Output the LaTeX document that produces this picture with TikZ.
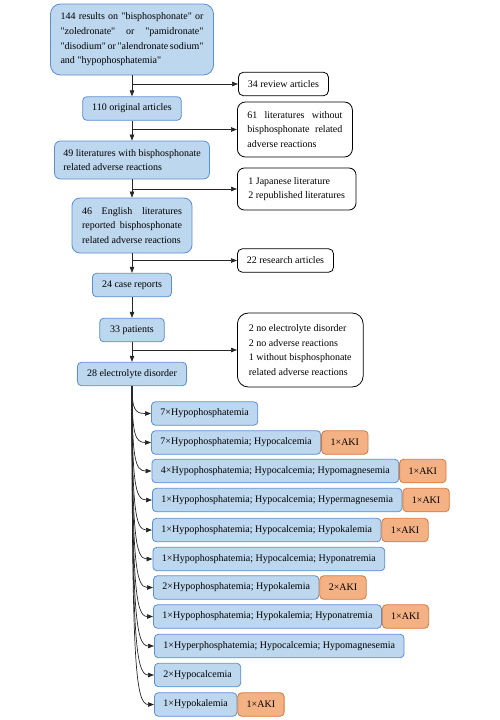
\documentclass[tikz,border=0pt]{standalone}
\usepackage{fontspec}
\setmainfont{Liberation Serif}[Ligatures=TeXOff]
\usetikzlibrary{positioning,arrows.meta,calc}
\definecolor{boxblue}{HTML}{BDD7EE}
\definecolor{lineblue}{HTML}{5B8FD3}
\definecolor{boxorange}{HTML}{F4B183}
\definecolor{lineorange}{HTML}{D9773A}
\hyphenpenalty=10000
\tolerance=9999

\begin{document}
\begin{tikzpicture}[
    x=1pt, y=-1pt,
    font=\fontsize{10}{14.7}\selectfont,
    mainbox/.style={draw=lineblue, line width=0.8pt, fill=boxblue, rounded corners=4pt,
                    inner xsep=9.5pt, minimum height=23.5pt},
    sidebox/.style={draw=black, line width=0.8pt, fill=white, rounded corners=5pt,
                    inner xsep=9.5pt, minimum height=23.5pt, anchor=west},
    leafbox/.style={mainbox, inner xsep=9pt, anchor=west},
    akibox/.style={draw=lineorange, line width=0.8pt, fill=boxorange, rounded corners=4pt,
                   inner xsep=9pt, minimum height=23.5pt},
    arr/.style={-{Triangle[length=6pt,width=4.5pt]}, line width=0.7pt, black!85},
]
\useasboundingbox (0,0) rectangle (499,720);

% Search results
\node[mainbox, text width=143pt, align=justify, inner xsep=10pt, minimum height=71pt,
      rounded corners=10pt] (search) at (132, 39.5)
      {144 results on "bisphosphonate" or\linebreak
       "zoledronate" or "pamidronate"\linebreak
       "disodium" or "alendronate sodium"\linebreak
       and "hypophosphatemia"};
\node[sidebox] (review) at (238, 84) {34 review articles};

% Original articles
\node[mainbox] (orig) at (132, 108.5) {110 original articles};
\node[sidebox, text width=95pt, align=justify, inner xsep=10pt, minimum height=55pt,
      rounded corners=8pt] (nolit) at (237, 129.5)
      {61 literatures without bisphosphonate related adverse reactions};

% Literatures with adverse reactions
\node[mainbox, align=left, inner xsep=8.75pt, minimum height=38pt, rounded corners=6pt]
      (lit) at (132, 160) {49 literatures with bisphosphonate\\related adverse reactions};
\node[sidebox, align=left, inner xsep=11pt, minimum height=42pt, rounded corners=7pt]
      (lang) at (237, 189) {1 Japanese literature\\2 republished literatures};

% English literatures
\node[mainbox, text width=100pt, align=justify, inner xsep=10pt, minimum height=55pt,
      rounded corners=8pt] (eng) at (132, 225.5)
      {46 English literatures reported bisphosphonate related adverse reactions};
\node[sidebox] (research) at (237, 260.5) {22 research articles};

% Case reports and patients
\node[mainbox] (cases) at (132, 285) {24 case reports};
\node[mainbox, inner xsep=10.5pt] (patients) at (132, 330) {33 patients};
\node[sidebox, align=left, inner xsep=11.5pt, minimum height=74pt, rounded corners=11pt]
      (exclpat) at (237, 350)
      {2 no electrolyte disorder\\2 no adverse reactions\\1 without bisphosphonate\\related adverse reactions};
\node[mainbox] (elec) at (132, 374) {28 electrolyte disorder};

% Flow arrows
\draw[arr] (search.south) -- (orig.north);
\draw[arr] (search.south |- review.west) -- (review.west);
\draw[arr] (orig.south) -- (lit.north);
\draw[arr] (orig.south |- nolit.west) -- (nolit.west);
\draw[arr] (lit.south) -- (eng.north);
\draw[arr] (lit.south |- lang.west) -- (lang.west);
\draw[arr] (eng.south) -- (cases.north);
\draw[arr] (eng.south |- research.west) -- (research.west);
\draw[arr] (cases.south) -- (patients.north);
\draw[arr] (patients.south) -- (elec.north);
\draw[arr] (patients.south |- exclpat.west) -- (exclpat.west);

% Electrolyte disorder groups
\node[leafbox] (e1) at (151, 413.5) {7×Hypophosphatemia};
\node[leafbox] (e2) at (151, 442.5) {7×Hypophosphatemia; Hypocalcemia};
\node[akibox, right=0pt of e2] (a2) {1×AKI};
\node[leafbox] (e3) at (151.5, 471) {4×Hypophosphatemia; Hypocalcemia; Hypomagnesemia};
\node[akibox, right=0pt of e3] (a3) {1×AKI};
\node[leafbox] (e4) at (152, 500) {1×Hypophosphatemia; Hypocalcemia; Hypermagnesemia};
\node[akibox, right=0pt of e4] (a4) {1×AKI};
\node[leafbox] (e5) at (152, 530) {1×Hypophosphatemia; Hypocalcemia; Hypokalemia};
\node[akibox, right=0pt of e5] (a5) {1×AKI};
\node[leafbox] (e6) at (152.5, 559) {1×Hypophosphatemia; Hypocalcemia; Hyponatremia};
\node[leafbox] (e7) at (153, 587.5) {2×Hypophosphatemia; Hypokalemia};
\node[akibox, right=0pt of e7] (a7) {2×AKI};
\node[leafbox] (e8) at (153, 616.5) {1×Hypophosphatemia; Hypokalemia; Hyponatremia};
\node[akibox, right=0pt of e8] (a8) {1×AKI};
\node[leafbox] (e9) at (154, 646) {1×Hyperphosphatemia; Hypocalcemia; Hypomagnesemia};
\node[leafbox] (e10) at (154, 675) {2×Hypocalcemia};
\node[leafbox] (e11) at (154, 704.5) {1×Hypokalemia};
\node[akibox, right=0pt of e11] (a11) {1×AKI};

% Curved connectors
\draw[arr] (elec.south) .. controls ($(elec.south)!0.85!(elec.south |- e1.west)$)
      and ([xshift=3pt]elec.south |- e1.west) .. (e1.west);
\draw[arr] (elec.south) .. controls ($(elec.south)!0.85!(elec.south |- e2.west)$)
      and ([xshift=3pt]elec.south |- e2.west) .. (e2.west);
\draw[arr] (elec.south) .. controls ($(elec.south)!0.85!(elec.south |- e3.west)$)
      and ([xshift=3pt]elec.south |- e3.west) .. (e3.west);
\draw[arr] (elec.south) .. controls ($(elec.south)!0.85!(elec.south |- e4.west)$)
      and ([xshift=3pt]elec.south |- e4.west) .. (e4.west);
\draw[arr] (elec.south) .. controls ($(elec.south)!0.85!(elec.south |- e5.west)$)
      and ([xshift=3pt]elec.south |- e5.west) .. (e5.west);
\draw[arr] (elec.south) .. controls ($(elec.south)!0.85!(elec.south |- e6.west)$)
      and ([xshift=3pt]elec.south |- e6.west) .. (e6.west);
\draw[arr] (elec.south) .. controls ($(elec.south)!0.85!(elec.south |- e7.west)$)
      and ([xshift=3pt]elec.south |- e7.west) .. (e7.west);
\draw[arr] (elec.south) .. controls ($(elec.south)!0.85!(elec.south |- e8.west)$)
      and ([xshift=3pt]elec.south |- e8.west) .. (e8.west);
\draw[arr] (elec.south) .. controls ($(elec.south)!0.85!(elec.south |- e9.west)$)
      and ([xshift=3pt]elec.south |- e9.west) .. (e9.west);
\draw[arr] (elec.south) .. controls ($(elec.south)!0.85!(elec.south |- e10.west)$)
      and ([xshift=3pt]elec.south |- e10.west) .. (e10.west);
\draw[arr] (elec.south) .. controls ($(elec.south)!0.85!(elec.south |- e11.west)$)
      and ([xshift=3pt]elec.south |- e11.west) .. (e11.west);

\end{tikzpicture}
\end{document}
